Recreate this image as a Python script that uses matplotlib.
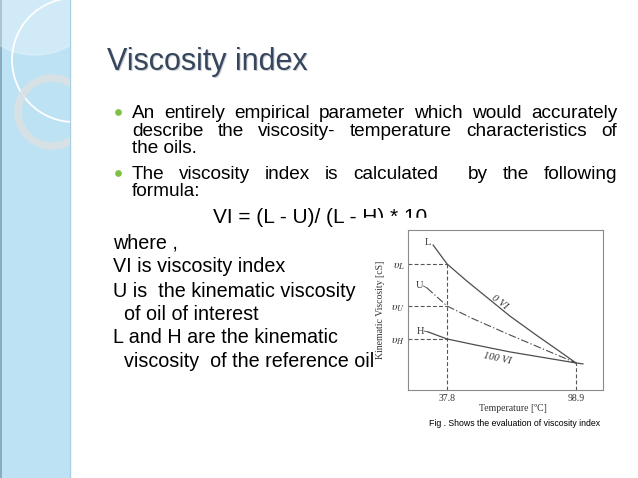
import matplotlib
matplotlib.use('Agg')
import matplotlib.pyplot as plt
from matplotlib.patches import Rectangle, Circle, Ellipse

plt.rcParams['mathtext.fontset'] = 'stix'

# chart values (temperature in ºC, viscosity in arbitrary units)
temp_L = [31.2, 37.8, 47, 56.7, 67.6, 80, 90, 98.9]
visc_L = [90.6, 78.8, 68.3, 57.9, 46.2, 34.4, 25.2, 16.9]
temp_U = [28.3, 37.8, 50, 67.6, 98.9]
visc_U = [63.8, 52.5, 44.6, 34.4, 16.9]
temp_H = [28.8, 37.8, 50, 67.6, 98.9]
visc_H = [36.3, 31.9, 28.5, 23.8, 16.9]
tail_T = [98.9, 102.2]
tail_v = [16.9, 16.3]
xtick_vals = [37.8, 98.9]
xtick_labels = ['37.8', '98.9']
ytick_labels = [r'$\upsilon_L$', r'$\upsilon_U$', r'$\upsilon_H$']

title = 'Viscosity index'
bullets = [
    ['An entirely empirical parameter which would accurately',
     'describe the viscosity- temperature characteristics of',
     'the oils.'],
    ['The viscosity index is calculated  by the following',
     'formula:'],
]
formula = 'VI = (L - U)/ (L - H) * 10'
notes = ['where ,', 'VI is viscosity index', 'U is  the kinematic viscosity',
         '  of oil of interest', 'L and H are the kinematic',
         '  viscosity  of the reference oil']
caption = 'Fig . Shows the evaluation of viscosity index'

W, H = 638, 478
fig = plt.figure(figsize=(W / 100, H / 100), dpi=100)
bg = fig.add_axes([0, 0, 1, 1])
bg.set_xlim(0, W)
bg.set_ylim(H, 0)
bg.axis('off')
r = fig.canvas.get_renderer()

# left decorative strip
strip = Rectangle((0, 0), 70, H, color='#bce2f4', zorder=1)
bg.add_patch(strip)
bg.plot([0.6, 0.6], [0, H], color='#7fa2b4', lw=1.2, zorder=2)
bg.plot([70, 70], [0, H], color='#a9cfe0', lw=0.8, zorder=2)
hl = Ellipse((35, -5), 130, 120, color='white', alpha=0.3, zorder=2)
bg.add_patch(hl)
hl.set_clip_path(strip)
c1 = Circle((74, 60), 62, fill=False, ec='white', lw=1.3, zorder=3)
bg.add_patch(c1)
c1.set_clip_path(strip)
c2 = Circle((52, 112), 34, fill=False, ec='#d9e1e4', lw=5.5, alpha=0.9, zorder=3)
bg.add_patch(c2)
c2.set_clip_path(strip)

# title with soft shadow
bg.text(108, 71, title, fontsize=22, family='Liberation Sans', color='#c9ced6',
        va='baseline', zorder=4)
bg.text(107, 70, title, fontsize=22, family='Liberation Sans', color='#37465c',
        va='baseline', zorder=5)


def put_line(text, x0, y, size, x1=None):
    kw = dict(fontsize=size, family='Liberation Sans', va='baseline', zorder=5)
    if x1 is None:
        bg.text(x0, y, text, **kw)
        return
    toks = text.split(' ')
    arts = [bg.text(0, y, t, **kw) for t in toks]
    ws = [a.get_window_extent(r).width if t else 0 for a, t in zip(arts, toks)]
    gap = (x1 - x0 - sum(ws)) / (len(toks) - 1)
    x = x0
    for a, w in zip(arts, ws):
        a.set_x(x)
        x += w + gap


# pick the bullet size so the first line nearly fills the column
probe = bg.text(0, 0, bullets[0][0], fontsize=13, family='Liberation Sans')
body_size = 13 * 462 / probe.get_window_extent(r).width
probe.remove()

bullet_y = [[118, 135.5, 153], [179, 196.5]]
for lines, ys in zip(bullets, bullet_y):
    bg.plot(118, ys[0] - 6, 'o', color='#7cc142', ms=3.8, zorder=5)
    for i, (ln, y) in enumerate(zip(lines, ys)):
        put_line(ln, 132, y, body_size, 617 if i < len(lines) - 1 else None)

bg.text(213, 223, formula, fontsize=15, family='Liberation Sans', va='baseline', zorder=5)
bg.add_patch(Rectangle((362, 218), 270, 14, color='white', zorder=6))

note_y = [248, 272, 297, 320, 343, 367]
for ln, y in zip(notes, note_y):
    bg.text(113, y, ln, fontsize=14.2, family='Liberation Sans', va='baseline', zorder=5)

bg.text(515, 426, caption, fontsize=6.3, family='Liberation Sans', ha='center',
        va='baseline', zorder=5)

# the embedded chart
ax = fig.add_axes([408 / W, (H - 390) / H, 195 / W, 160 / H])
ax.set_xlim(19.3, 111.7)
ax.set_ylim(0, 100)
lc = '#4d4d4d'
ax.plot(temp_L, visc_L, color=lc, lw=0.9)
ax.plot(temp_U, visc_U, color=lc, lw=0.8, dashes=[7, 2, 1.2, 2])
ax.plot(temp_H, visc_H, color=lc, lw=0.9)
ax.plot(tail_T, tail_v, color=lc, lw=0.9)

gkw = dict(color='#555555', lw=0.8, dashes=[3.5, 2])
for v in (visc_L[1], visc_U[1], visc_H[1]):
    ax.plot([19.3, temp_L[1]], [v, v], **gkw)
ax.plot([temp_L[1], temp_L[1]], [0, visc_L[1]], **gkw)
ax.plot([temp_L[-1], temp_L[-1]], [0, visc_L[-1]], **gkw)

skw = dict(family='Liberation Serif', fontsize=7.5, color='#333333')
ax.text(temp_L[0] - 0.8, visc_L[0] + 1.5, 'L', ha='right', va='center', **skw)
ax.plot([temp_U[0] - 1.7, temp_U[0]], [visc_U[0] + 1.2, visc_U[0]], color=lc, lw=0.6)
ax.text(temp_U[0] - 2, visc_U[0] + 1.5, 'U', ha='right', va='center', **skw)
ax.plot([temp_H[0] - 1.7, temp_H[0]], [visc_H[0] + 0.5, visc_H[0]], color=lc, lw=0.6)
ax.text(temp_H[0] - 2, visc_H[0] + 0.5, 'H', ha='right', va='center', **skw)
ax.text(62.5, 55, '0 VI', rotation=-37, ha='center', va='center', style='italic', **skw)
ax.text(61.5, 19.5, '100 VI', rotation=-12, ha='center', va='center', style='italic', **skw)

ax.set_xticks(xtick_vals)
ax.set_xticklabels(xtick_labels, family='Liberation Serif')
ax.set_yticks([visc_L[1], visc_U[1], visc_H[1]])
ax.set_yticklabels(ytick_labels)
ax.tick_params(axis='x', length=0, labelsize=7, colors='#333333', pad=3)
ax.tick_params(axis='y', length=0, labelsize=8.5, colors='#333333', pad=2)
ax.set_xlabel('Temperature [ºC]', family='Liberation Serif', fontsize=7, color='#333333')
ax.xaxis.set_label_coords(0.54, -0.085)
ax.set_ylabel('Kinematic Viscosity [cS]', family='Liberation Serif', fontsize=7, color='#333333')
ax.yaxis.set_label_coords(-0.12, 0.5)
for s in ax.spines.values():
    s.set_color('#8a8a8a')
    s.set_linewidth(0.8)

fig.savefig('out.png', dpi=100)
